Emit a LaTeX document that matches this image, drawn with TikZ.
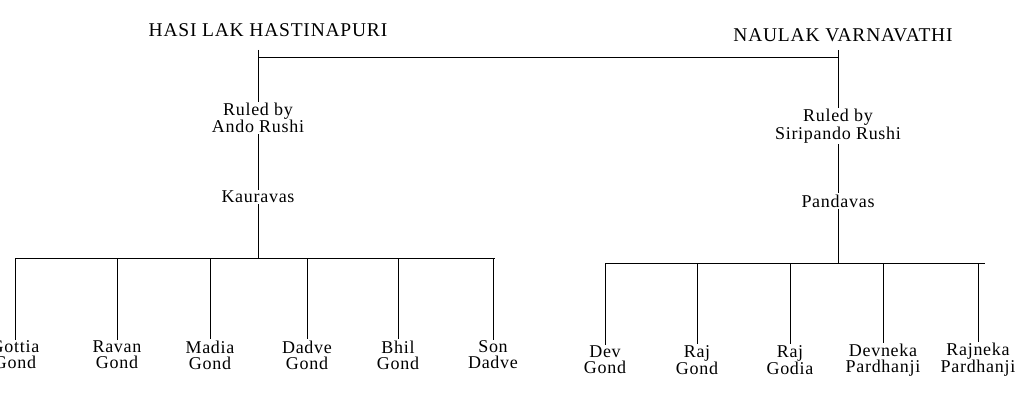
\documentclass[tikz,border=0pt]{standalone}
\usepackage{fontspec}
\setmainfont{Liberation Serif}[LetterSpace=4]
\begin{document}
\begin{tikzpicture}[x=1pt,y=-1pt,every node/.style={font=\fontsize{18}{16}\selectfont,inner sep=1pt,align=center},ln/.style={line width=0.9pt},ttl/.style={font=\fontsize{19.5}{20}\selectfont}]
\useasboundingbox (0,0) rectangle (1035,409);
\node[ttl] (h) at (268,30) {HASI LAK HASTINAPURI};
\node[ttl] (n) at (843,35) {NAULAK VARNAVATHI};
\coordinate (tl) at (258,57); \coordinate (tr) at (838,57);
\draw[ln] (258,50) -- (tl) -- (tr) -- (838,50);
\node (rl) at (258,118) {Ruled by\\Ando Rushi};
\node (rr) at (838,126) {Ruled by\\Siripando Rushi};
\node (k) at (258,197) {Kauravas};
\node (p) at (838,201) {Pandavas};
\draw[ln] (tl) -- (rl.north); \draw[ln] (rl.south) -- (k.north);
\draw[ln] (tr) -- (rr.north); \draw[ln] (rr.south) -- (p.north);
\coordinate (kb) at (258,258); \coordinate (pb) at (838,263);
\draw[ln] (k.south) -- (kb); \draw[ln] (p.south) -- (pb);
\draw[ln] (15,258) -- (495,258);
\draw[ln] (605,263) -- (985,263);
\foreach \x/\a/\b [count=\i] in {15/Gottia/Gond,117/Ravan/Gond,210/Madia/Gond,307/Dadve/Gond,398/Bhil/Gond,493/Son/Dadve}{
  \node (l\i) at (\x,355) {\a\\\b};
  \draw[ln] (\x,258) -- (l\i.north);}
\foreach \x/\a/\b [count=\i] in {605/Dev/Gond,697/Raj/Gond,790/Raj/Godia,883/Devneka/Pardhanji,978/Rajneka/Pardhanji}{
  \node (r\i) at (\x,360) {\a\\\b};
  \draw[ln] (\x,263) -- (r\i.north);}
\end{tikzpicture}
\end{document}
